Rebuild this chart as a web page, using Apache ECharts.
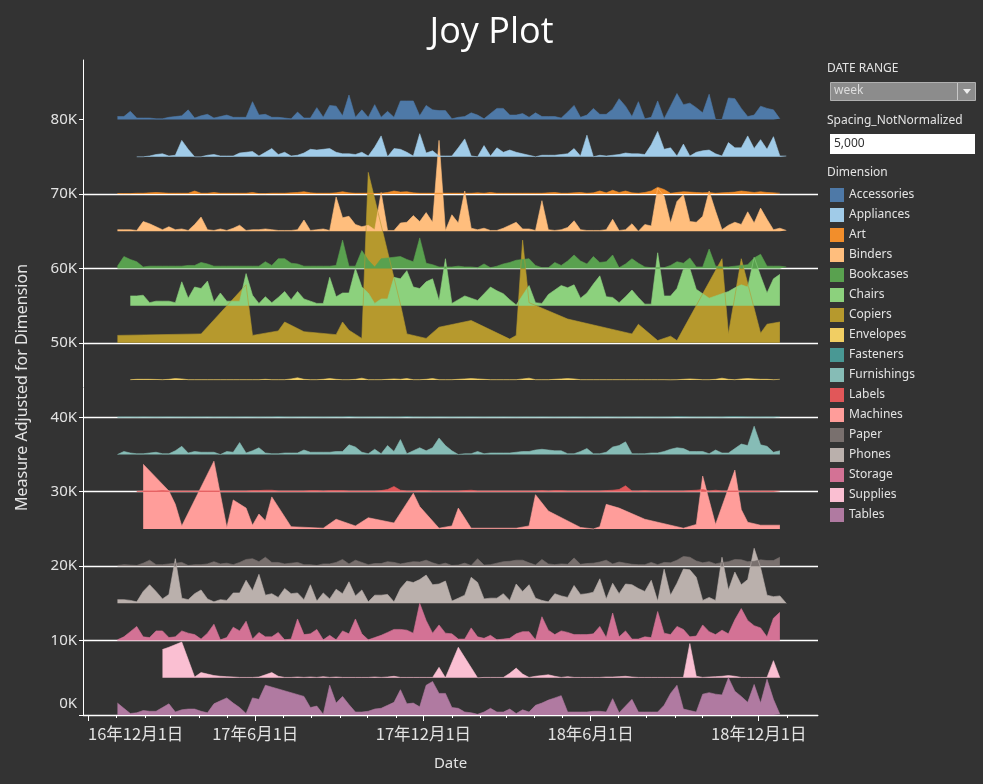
<!DOCTYPE html>
<html>
<head>
<meta charset="utf-8">
<script src="https://cdn.jsdelivr.net/npm/echarts@6/dist/echarts.min.js"></script>
<style>
html,body{margin:0;padding:0;background:#333333;}
#chart{width:983px;height:784px;}
</style>
</head>
<body>
<div id="chart"></div>
<script>
// ---------- DATA (values in thousands) ----------
const dimensions = ['Accessories','Appliances','Art','Binders','Bookcases','Chairs','Copiers','Envelopes','Fasteners','Furnishings','Labels','Machines','Paper','Phones','Storage','Supplies','Tables'];
const dimensionColors = ['#4e79a7','#a0cbe8','#f28e2b','#ffbe7d','#59a14f','#8cd17d','#b6992d','#f1ce63','#499894','#86bcb6','#e15759','#ff9d9a','#79706e','#bab0ac','#d37295','#fabfd2','#b07aa1'];
const spacing = 5000;           // Spacing_NotNormalized
const weekCount = 105;          // weekly points, first week starts 2017-01-02
const xTickLabels = ['2016-12-01','2017-06-01','2017-12-01','2018-06-01','2018-12-01'];
const yTickValues = [0,10000,20000,30000,40000,50000,60000,70000,80000];

const accessories = [0.4,0.4,1.1,0.2,0.2,0.2,0.1,0.1,0.3,0.4,
0.5,1.3,0.2,0.5,0.7,0.2,0.4,0.6,0.3,0.3,
0.3,2.4,0.6,0.7,0.3,0.3,0.2,0.1,1.0,0.2,
0.2,1.6,0.3,1.9,1.8,0.5,3.3,0.3,1.3,0.3,
2.0,0.3,1.1,0.3,2.5,2.5,2.5,0.5,1.9,1.3,
1.2,1.2,0.1,0.3,0.4,0.9,0.6,0.1,0.8,1.5,
1.5,0.6,0.6,0.8,0.3,0.9,0.4,0.4,0.4,0.2,
1.0,1.9,0.3,0.6,1.5,0.7,0.7,1.4,2.8,1.8,
0.4,2.4,0.1,0.3,2.5,0.1,1.8,3.5,2.0,2.2,
1.6,0.9,3.4,0.0,0.0,2.9,2.8,1.5,0.4,0.6,
1.8,1.5,1.3,0.1,null];

const appliances = [null,null,null,0.0,0.0,0.1,0.3,0.4,0.1,0.2,
2.2,1.0,0.0,0.0,0.2,0.3,0.1,0.1,0.1,0.5,
0.6,0.7,0.1,0.6,1.1,0.3,0.6,0.1,0.2,0.5,
1.0,0.9,1.0,1.1,0.6,0.4,0.4,0.3,0.6,0.1,
1.3,2.8,0.0,1.1,1.0,0.6,0.1,3.1,0.5,0.8,
0.1,0.1,0.1,1.2,2.4,0.1,0.0,1.5,0.1,1.2,
0.6,0.9,0.6,0.4,0.2,0.0,0.2,0.2,0.2,0.3,
0.4,1.1,0.1,2.9,0.0,0.2,0.1,0.2,0.3,0.5,
0.4,0.4,0.3,1.6,3.4,1.0,1.2,0.1,1.7,0.1,
0.6,0.8,0.9,0.4,0.1,1.9,1.2,1.2,2.8,1.1,
2.3,1.0,2.7,0.1,0.1];

const art = [0.05,0.05,0.05,0.1,0.1,0.15,0.2,0.15,0.1,0.1,
0.1,0.1,0.4,0.1,0.1,0.2,0.1,0.1,0.1,0.1,
0.1,0.2,0.05,0.05,0.1,0.1,0.1,0.15,0.2,0.3,
0.15,0.1,0.1,0.1,0.15,0.3,0.15,0.1,0.1,0.1,
0.05,0.1,0.2,0.4,0.25,0.3,0.15,0.1,0.1,0.1,
0.1,0.1,0.1,0.1,0.1,0.1,0.15,0.1,0.2,0.1,
0.1,0.1,0.1,0.1,0.1,0.1,0.1,0.15,0.2,0.1,
0.1,0.15,0.2,0.1,0.15,0.4,0.15,0.5,0.2,0.4,
0.15,0.1,0.2,0.4,0.9,0.6,0.1,0.2,0.3,0.25,
0.2,0.15,0.2,0.1,0.15,0.2,0.25,0.4,0.3,0.2,
0.3,0.2,0.15,0.1,null];

const binders = [0.2,0.2,0.2,0.1,1.3,1.0,0.6,0.2,0.6,0.2,
0.3,0.1,0.9,1.9,0.2,0.1,0.3,0.1,0.4,0.8,
0.1,0.2,0.2,0.3,0.2,0.1,0.1,0.1,0.2,1.5,
0.1,0.2,0.3,0.1,4.6,1.8,2.0,0.9,0.6,0.8,
0.2,5.2,0.1,0.1,1.1,1.2,2.1,1.3,2.5,1.2,
12.2,0.1,2.2,1.1,5.4,0.4,0.2,0.4,0.1,0.1,
0.4,0.8,1.2,0.3,0.3,0.1,4.1,0.2,0.1,0.2,
0.5,1.4,0.2,0.1,0.1,0.1,0.2,1.6,0.1,0.2,
1.0,0.0,0.9,0.7,5.8,4.7,1.1,4.0,4.9,1.3,
1.2,2.0,5.4,2.7,0.2,0.8,1.2,0.9,2.6,1.1,
3.1,1.6,0.2,0.4,0.1];

const bookcases = [0.3,1.6,1.2,0.9,0.2,0.3,0.3,0.3,0.3,0.3,
0.3,0.4,0.4,0.8,0.6,0.3,0.3,0.3,0.3,0.3,
0.3,0.3,0.3,0.9,0.4,1.3,1.3,0.7,0.6,0.3,
0.3,0.3,0.3,0.3,0.4,3.8,0.3,0.3,2.4,1.1,
0.2,1.3,1.4,1.5,1.6,1.2,0.9,4.1,0.7,0.5,
0.2,0.2,0.2,0.3,0.2,0.2,0.1,0.6,0.1,0.3,
0.6,0.8,1.1,1.2,1.3,0.4,0.1,0.1,0.8,0.4,
1.0,1.8,1.0,0.6,1.6,0.8,0.9,1.8,0.1,0.6,
1.3,0.7,0.2,0.1,0.1,0.1,0.4,0.9,0.7,1.4,
0.2,0.2,2.6,0.3,0.2,0.2,0.3,0.4,0.5,1.4,
1.9,0.3,0.3,0.3,0.2];

const chairs = [null,null,1.3,1.3,1.4,0.4,0.6,0.6,0.6,0.4,
3.2,1.0,2.5,2.3,3.3,0.5,1.7,0.6,0.6,0.6,
4.3,1.4,0.3,1.2,0.4,1.1,1.9,0.8,1.9,0.9,
0.6,0.3,0.3,3.8,1.2,1.7,1.7,5.0,2.5,1.7,
0.3,0.9,0.9,3.8,3.6,4.7,2.5,2.3,3.2,3.6,
0.7,6.3,0.3,0.8,1.3,1.0,0.7,1.6,2.5,2.0,
1.6,0.8,0.1,1.4,2.7,0.4,0.3,1.5,2.1,2.7,
2.4,2.8,1.0,1.7,2.9,4.0,1.2,1.1,0.4,1.2,
2.1,1.1,0.2,0.2,7.1,1.3,1.3,2.3,4.9,5.0,
2.2,1.6,1.0,1.3,1.6,1.9,2.4,2.8,2.5,6.5,
4.0,1.7,3.6,4.2,null];

// sparse series: week index + value
const copiersWeeks  = [0,13,20,21,25,26,29,34,35,36,38,39,44,45,48,50,55,61,62,63,64,70,80,81,84,86,87,94,95,97,100,101,103];
const copiersValues = [1.0,1.2,7.8,1.0,1.6,2.8,1.5,1.1,2.8,1.7,0.6,22.9,5.2,1.2,0.6,2.1,3.0,0.5,1.0,13.8,5.4,3.2,1.2,2.5,0.3,0.9,0.3,11.3,1.2,11.3,1.3,2.5,2.8];

const envelopes = [null,null,0.05,0.1,0.1,0.1,0.08,0.05,0.1,0.2,
0.15,0.05,0.05,0.05,0.05,0.05,0.05,0.05,0.05,0.05,
0.05,0.05,0.05,0.1,0.05,0.05,0.05,0.15,0.3,0.1,
0.05,0.05,0.1,0.2,0.1,0.05,0.05,0.1,0.25,0.05,
0.05,0.05,0.1,0.15,0.1,0.2,0.05,0.05,0.1,0.2,
0.05,0.05,0.05,0.1,0.15,0.2,0.15,0.1,0.05,0.05,
0.05,0.05,0.05,0.15,0.25,0.05,0.05,0.05,0.1,0.15,
0.2,0.15,0.05,0.05,0.05,0.05,0.05,0.05,0.05,0.05,
0.05,0.05,0.05,0.05,0.05,0.05,0.03,0.05,0.1,0.15,
0.1,0.05,0.05,0.1,0.25,0.1,0.05,0.15,0.2,0.15,
0.1,0.1,0.05,0.1,null];

const fasteners = [0.03,0.04,0.04,0.03,0.05,0.04,0.03,0.04,0.05,0.04,
0.04,0.03,0.04,0.04,0.05,0.03,0.04,0.04,0.03,0.04,
0.05,0.04,0.03,0.04,0.04,0.06,0.04,0.03,0.04,0.05,
0.04,0.04,0.03,0.04,0.05,0.04,0.08,0.04,0.03,0.04,
0.04,0.05,0.04,0.03,0.04,0.08,0.04,0.04,0.03,0.04,
0.05,0.04,0.03,0.04,0.04,0.05,0.04,0.03,0.04,0.04,
0.05,0.04,0.03,0.04,0.04,0.04,0.05,0.04,0.03,0.04,
0.04,0.05,0.04,0.03,0.04,0.04,0.05,0.04,0.03,0.04,
0.04,0.05,0.04,0.04,0.03,0.04,0.05,0.08,0.06,0.05,
0.04,0.04,0.05,0.04,0.03,0.06,0.07,0.06,0.05,0.04,
0.04,0.05,0.04,0.06,null];

const furnishings = [0.0,0.4,0.2,0.1,0.1,0.2,0.3,0.1,0.1,0.5,
1.1,0.2,0.4,0.3,0.3,0.3,0.0,0.4,0.3,1.6,
0.2,0.5,0.9,0.2,0.1,0.1,0.2,0.2,0.2,0.6,
0.3,0.3,0.3,0.3,0.4,0.4,1.3,1.0,0.3,0.1,
0.7,0.1,1.2,0.4,2.0,0.1,0.5,0.9,0.5,0.9,
2.2,1.2,0.5,0.0,0.1,0.1,0.4,0.1,0.2,0.2,
0.2,0.2,0.3,0.4,0.4,0.6,0.7,0.6,0.5,0.5,
0.1,0.1,0.4,0.8,0.1,0.1,0.3,1.0,1.2,1.7,
0.1,0.1,0.1,0.2,0.2,0.4,0.7,0.9,0.8,0.4,
0.4,0.4,0.1,0.6,0.2,0.2,0.8,1.4,1.2,3.8,
1.3,1.1,0.3,0.5,null];

const labels = [null,null,null,0.05,0.1,0.1,0.1,0.15,0.1,0.1,
0.1,0.1,0.1,0.1,0.1,0.1,0.1,0.1,0.1,0.1,
0.1,0.15,0.15,0.2,0.2,0.1,0.1,0.1,0.1,0.1,
0.15,0.15,0.1,0.15,0.15,0.15,0.1,0.1,0.1,0.1,
0.1,0.15,0.3,0.7,0.2,0.1,0.1,0.15,0.15,0.1,
0.1,0.1,0.1,0.1,0.15,0.2,0.1,0.1,0.1,0.1,
0.1,0.1,0.1,0.1,0.1,0.1,0.15,0.1,0.15,0.15,
0.1,0.1,0.1,0.1,0.1,0.1,0.15,0.2,0.3,0.8,
0.1,0.1,0.15,0.1,0.1,0.1,0.1,0.1,0.1,0.15,
0.2,0.3,0.1,0.2,0.1,0.1,0.1,0.1,0.1,0.1,
0.1,0.1,0.1,0.1,null];

const machinesWeeks  = [4,8,9,10,15,17,18,20,21,22,23,24,27,32,34,37,39,43,46,47,50,52,53,55,62,64,65,67,72,74,75,76,78,82,88,90,91,93,96,97,98,100,103];
const machinesValues = [8.7,5.1,3.3,0.4,9.1,0.2,3.9,2.8,0.5,2.0,1.1,4.3,0.3,0.1,1.3,0.4,1.5,0.8,4.8,3.0,0.1,0.4,2.8,0.1,0.1,0.4,4.6,2.4,0.2,0.0,0.3,3.3,2.8,1.3,0.1,0.6,7.1,0.6,7.9,2.6,0.9,0.5,0.5];

const paper = [0.1,0.2,0.15,0.1,0.4,0.8,0.2,0.2,0.3,0.4,
0.5,0.1,0.2,0.2,0.3,0.6,0.3,0.4,0.2,0.5,
0.9,1.0,0.6,1.2,0.5,0.5,0.3,0.4,0.5,0.2,
0.2,0.1,0.3,0.3,0.5,0.9,0.3,0.8,0.5,0.2,
0.35,0.35,0.6,0.5,0.3,0.45,0.6,0.55,0.8,0.45,
0.2,0.4,0.1,0.15,0.4,0.1,1.0,0.15,0.2,0.4,
0.6,0.65,0.8,0.8,0.45,0.15,0.9,0.3,0.2,0.3,
0.25,1.1,0.25,0.35,0.4,0.55,0.8,0.3,0.55,0.4,
0.25,0.2,0.2,0.5,0.2,0.5,0.45,0.8,1.3,1.2,
0.7,0.45,0.6,0.3,0.5,0.6,0.9,0.85,0.6,0.65,
0.85,0.75,0.75,1.2,null];

const phones = [0.5,0.5,0.4,0.2,1.6,2.5,1.6,0.6,1.2,6.0,
0.7,0.5,1.3,1.8,0.6,0.2,0.5,0.4,1.4,1.4,
3.1,1.7,3.9,1.1,1.3,0.8,2.0,1.3,1.4,0.5,
2.5,0.3,1.4,0.6,1.9,1.3,2.9,1.0,1.8,0.2,
1.1,1.1,1.2,0.2,2.0,3.0,2.8,3.2,3.8,2.5,
2.6,3.0,0.3,0.7,1.1,3.5,2.8,0.6,0.7,0.7,
1.3,0.4,2.6,1.6,2.5,0.7,0.4,0.2,1.3,1.0,
0.8,2.4,1.2,1.3,1.5,3.3,0.6,2.7,1.3,2.6,
2.5,2.0,1.6,3.1,0.3,4.6,1.1,2.7,4.6,4.5,
3.5,0.4,0.8,0.4,6.2,1.8,4.2,2.5,3.2,7.4,
4.8,1.1,0.9,1.0,0.0];

const storage = [0.1,0.5,1.2,1.9,0.5,0.4,1.3,1.3,0.4,0.5,
1.3,1.0,0.8,0.2,1.0,2.2,0.1,0.4,1.8,1.3,
2.6,0.2,1.1,0.5,0.5,1.1,0.1,0.2,2.9,0.8,
0.9,1.5,0.1,0.7,0.1,1.3,0.9,2.9,0.9,0.1,
0.4,0.7,1.1,1.5,1.5,1.4,1.0,5.0,2.7,1.0,
2.1,1.0,0.9,0.2,0.2,1.7,0.5,0.3,0.7,0.1,
0.2,0.3,0.9,1.2,1.2,0.1,3.2,1.4,0.8,1.3,
1.1,0.8,0.8,0.8,0.9,1.9,0.4,3.7,0.5,1.3,
0.2,0.2,0.5,0.4,3.9,1.0,0.8,1.9,1.5,0.5,
0.6,2.1,1.2,0.8,1.4,0.9,2.8,4.3,2.7,2.0,
1.7,0.5,3.0,3.8,null];

const supplies = [null,null,null,null,null,null,null,3.8,4.1,null,
4.8,null,0.1,0.7,0.5,0.3,0.2,0.15,0.1,0.05,
0.05,0.05,0.1,0.4,0.7,0.2,0.05,0.05,0.1,0.05,
0.1,0.05,0.15,0.05,0.1,0.05,0.05,0.05,0.05,0.05,
0.1,0.05,0.1,0.2,0.05,0.05,0.05,0.05,0.05,0.05,
1.4,0.0,null,4.1,null,null,0.0,0.05,0.05,0.05,
0.05,0.6,1.3,0.5,0.05,0.2,0.3,0.4,0.2,0.05,
0.15,0.05,0.05,0.05,0.05,0.05,0.1,0.1,0.15,0.2,
0.1,0.05,0.05,0.05,0.05,0.05,0.05,0.05,0.05,4.6,
0.2,0.05,0.1,0.15,0.2,0.3,0.2,0.05,0.05,0.05,
0.05,0.05,2.3,0.0,null];

const tables = [1.6,0.9,0.2,0.3,0.6,0.5,0.5,1.0,1.5,0.4,
0.7,0.8,0.8,0.5,0.3,1.5,1.9,2.3,1.6,1.0,
0.2,2.3,2.1,4.0,null,null,null,null,null,2.5,
1.0,1.2,0.1,4.0,1.6,2.5,1.4,0.4,0.4,0.5,
0.8,0.9,1.3,1.7,3.4,1.5,1.6,1.1,4.0,4.5,
2.9,2.9,1.0,0.9,0.4,0.3,0.1,0.4,0.9,0.4,
0.4,0.8,0.2,0.7,0.4,1.3,1.6,2.0,2.3,2.6,
0.4,0.4,0.4,0.4,0.5,0.5,0.4,2.2,0.3,1.2,
2.1,0.4,0.4,0.4,0.4,1.3,2.9,4.0,0.8,0.6,
0.4,2.8,3.0,2.8,2.7,5.0,3.2,2.5,1.7,4.1,
1.6,4.8,2.1,0.1,null];

function sparse(weeks, values){
  const a = new Array(weekCount).fill(null);
  weeks.forEach((w,k)=>{ a[w] = values[k]; });
  return a;
}
const seriesValues = [accessories, appliances, art, binders, bookcases, chairs,
  sparse(copiersWeeks, copiersValues), envelopes, fasteners, furnishings, labels,
  sparse(machinesWeeks, machinesValues), paper, phones, storage, supplies, tables];

// ---------- CHART ----------
function weekTime(i){ return new Date(2017, 0, 2 + 7*i).getTime(); }
function parseDay(s){ const p = s.split('-').map(Number); return new Date(p[0], p[1]-1, p[2]).getTime(); }
const labelTimes = xTickLabels.map(parseDay);
const monthTimes = [];
for (let k = 0; k <= 25; k++) monthTimes.push(new Date(2016, 11 + k, 1).getTime());
const xMin = new Date(2016, 10, 25, 12).getTime();
const xMax = new Date(2019, 1, 3, 12).getTime();

const n = dimensions.length;
const series = [];
for (let k = n - 1; k >= 0; k--) {
  const offset = (n - 1 - k) * spacing;
  const data = [];
  seriesValues[k].forEach((v, i) => { if (v !== null && v !== undefined) data.push([weekTime(i), offset + v * 1000]); });
  series.push({
    type: 'line', name: dimensions[k], data: data,
    showSymbol: false, symbol: 'none', silent: true,
    itemStyle: { color: dimensionColors[k] },
    lineStyle: { width: 0.6, color: dimensionColors[k] },
    areaStyle: { origin: offset, opacity: 1, color: dimensionColors[k] },
    emphasis: { disabled: true }
  });
}

function dayLabel(v){ const d = new Date(v); return (d.getFullYear() % 100) + '年' + (d.getMonth() + 1) + '月' + d.getDate() + '日'; }

const txt = '#e3e3e3';
const chart = echarts.init(document.getElementById('chart'), null, { renderer: 'canvas' });
chart.setOption({
  animation: false,
  backgroundColor: '#333333',
  title: { text: 'Joy Plot', left: 'center', top: 10,
    textStyle: { color: '#ffffff', fontSize: 36, fontWeight: 'normal', fontFamily: 'Open Sans' } },
  grid: { left: 83, right: 165, top: 60, bottom: 69 },
  legend: {
    orient: 'vertical', left: 830, top: 188, padding: 0,
    itemWidth: 14, itemHeight: 14, itemGap: 6, icon: 'rect', selectedMode: false,
    itemStyle: { borderWidth: 0 },
    textStyle: { color: txt, fontSize: 12, fontFamily: 'Noto Sans' },
    data: dimensions
  },
  xAxis: [{
    type: 'value', min: xMin, max: xMax, scale: true,
    axisLine: { show: true, lineStyle: { color: '#ffffff', width: 1 } },
    axisTick: { show: true, customValues: labelTimes, length: 6, lineStyle: { color: '#ffffff' } },
    axisLabel: {
      customValues: labelTimes, color: txt, fontSize: 16.5, fontFamily: 'Noto Sans CJK JP', margin: 10,
      alignMinLabel: 'left', formatter: dayLabel
    },
    splitLine: { show: false },
    name: 'Date', nameLocation: 'middle', nameGap: 41,
    nameTextStyle: { color: txt, fontSize: 15, fontFamily: 'Noto Sans' }
  }, {
    type: 'value', min: xMin, max: xMax, scale: true, position: 'bottom',
    axisLine: { show: false },
    axisTick: { show: true, customValues: monthTimes, length: 3, lineStyle: { color: '#ffffff' } },
    axisLabel: { show: false }, splitLine: { show: false }
  }],
  yAxis: {
    type: 'value', min: 0, max: 88000, interval: 10000,
    axisLine: { show: true, lineStyle: { color: '#ffffff', width: 1 } },
    axisTick: { show: true, customValues: yTickValues, length: 4, lineStyle: { color: '#ffffff' } },
    axisLabel: {
      customValues: yTickValues, color: txt, fontSize: 15, fontFamily: 'Noto Sans', margin: 6,
      formatter: function (v) { return v === 0 ? '{z|0K}' : (v / 1000) + 'K'; },
      rich: { z: { padding: [0, 0, 23, 0], color: txt, fontSize: 15, fontFamily: 'Noto Sans' } }
    },
    splitLine: { show: true, showMaxLine: false, lineStyle: { color: '#ffffff', width: 1.3 } },
    name: 'Measure Adjusted for Dimension', nameLocation: 'middle', nameGap: 53,
    nameTextStyle: { color: txt, fontSize: 16, fontFamily: 'Noto Sans' }
  },
  series: series,
  graphic: [
    { type: 'text', left: 827, top: 63, style: { text: 'DATE RANGE', fill: txt, font: '12px "Noto Sans"' } },
    { type: 'rect', shape: { x: 830.5, y: 82.5, width: 145, height: 18 }, style: { fill: '#8c8c8c', stroke: '#b0b0b0', lineWidth: 1 } },
    { type: 'line', shape: { x1: 957.5, y1: 83, x2: 957.5, y2: 100 }, style: { stroke: '#c8c8c8', lineWidth: 1 } },
    { type: 'polygon', shape: { points: [[963, 89], [971, 89], [967, 94]] }, style: { fill: '#eeeeee' } },
    { type: 'text', left: 834, top: 85, style: { text: 'week', fill: '#dcdcdc', font: '12px "Noto Sans"' } },
    { type: 'text', left: 827, top: 115, style: { text: 'Spacing_NotNormalized', fill: txt, font: '12px "Noto Sans"' } },
    { type: 'rect', shape: { x: 830, y: 134, width: 145, height: 20 }, style: { fill: '#ffffff' } },
    { type: 'text', left: 834, top: 138, style: { text: '5,000', fill: '#333333', font: '12px "Noto Sans"' } },
    { type: 'text', left: 827, top: 167, style: { text: 'Dimension', fill: txt, font: '12px "Noto Sans"' } }
  ]
});
</script>
</body>
</html>
